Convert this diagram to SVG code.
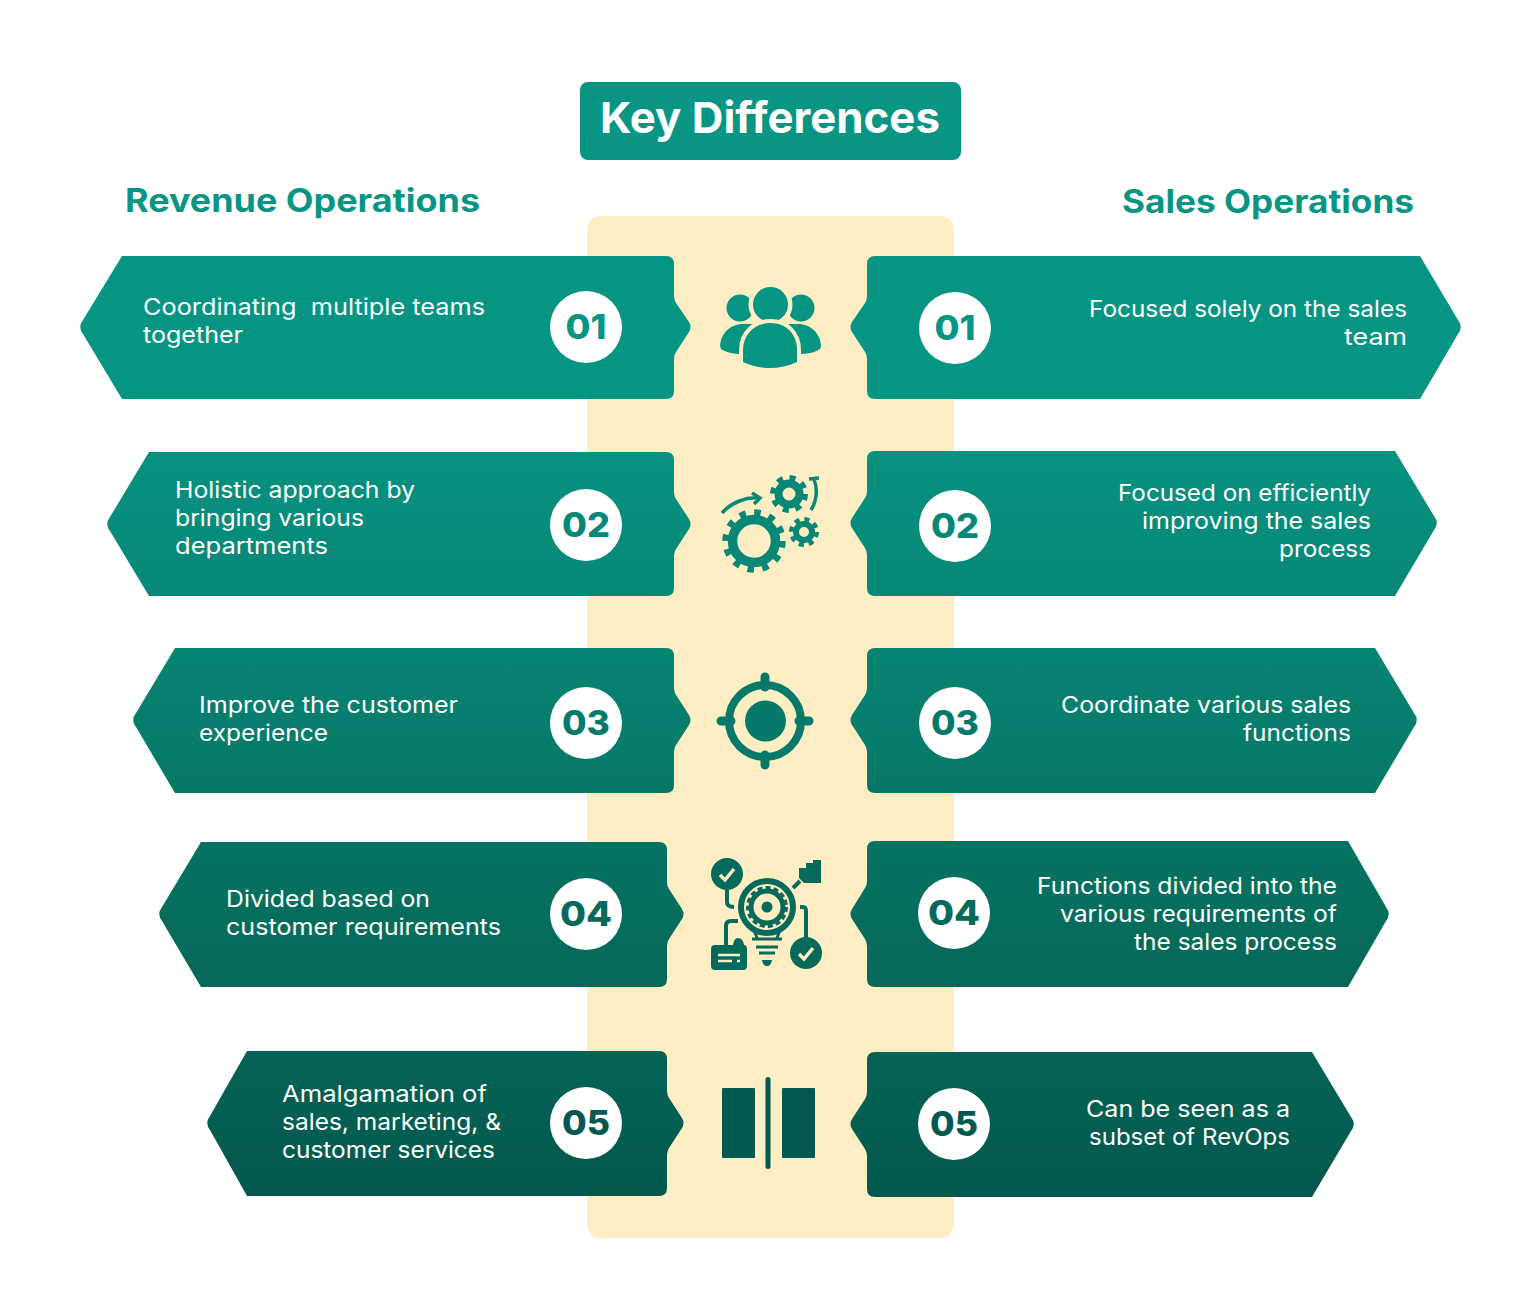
<svg xmlns="http://www.w3.org/2000/svg" width="1536" height="1314" viewBox="0 0 1536 1314">
<style>
text{font-family:"Inter","Liberation Sans",sans-serif}
.b{fill:url(#g)}
.t{font-size:22.5px;fill:#fff;white-space:pre}
.e{text-anchor:end}
.n{font-size:34px;font-weight:800;text-anchor:middle}
.h{font-size:32px;font-weight:700;fill:#089583}
.c{fill:#fff}
.bgs{fill:none;stroke:#fdeec4}
</style>
<defs>
<linearGradient id="g" gradientUnits="userSpaceOnUse" x1="0" y1="256" x2="0" y2="1197">
<stop offset="0" stop-color="#079583"/><stop offset="0.15" stop-color="#079583"/><stop offset="0.4" stop-color="#078574"/><stop offset="0.7" stop-color="#066d5d"/><stop offset="1" stop-color="#03584e"/>
</linearGradient>
</defs>
<rect width="1536" height="1314" fill="#fff"/>
<rect id="band" x="587" y="216" width="367" height="1022" rx="14" fill="#fdeec4"/>
<g id="title"><rect x="580" y="82" width="381" height="78" rx="8" fill="#089583"/>
<text x="600" y="133" font-size="43" font-weight="700" fill="#fff" textLength="340" lengthAdjust="spacingAndGlyphs">Key Differences</text></g>
<text id="left-heading" class="h" x="125" y="212" textLength="355" lengthAdjust="spacingAndGlyphs">Revenue Operations</text>
<text id="right-heading" class="h" x="1122" y="213" textLength="292" lengthAdjust="spacingAndGlyphs">Sales Operations</text>

<g id="left-1"><path class="b" d="M122 256H666Q674 256 674 264V296Q674 300 676 303L689 322Q692 327 689 332L676 352Q674 355 674 359V391Q674 399 666 399H122L83 334Q77.500 327 83 320Z"/>
<text class="t" x="143" y="315" textLength="342" lengthAdjust="spacingAndGlyphs">Coordinating  multiple teams</text><text class="t" x="143" y="343" textLength="100" lengthAdjust="spacingAndGlyphs">together</text>
<circle class="c" cx="586" cy="327" r="36"/><text class="n" x="586" y="339" fill="#089583" textLength="41" lengthAdjust="spacingAndGlyphs">01</text></g>

<g id="left-2"><path class="b" d="M149 452H666Q674 452 674 460V492Q674 496 676 499L689 519Q692 524 689 529L676 549Q674 552 674 556V588Q674 596 666 596H149L110 531Q104.500 524 110 517Z"/>
<text class="t" x="175" y="498" textLength="240" lengthAdjust="spacingAndGlyphs">Holistic approach by</text><text class="t" x="175" y="526" textLength="189" lengthAdjust="spacingAndGlyphs">bringing various</text><text class="t" x="175" y="554" textLength="153" lengthAdjust="spacingAndGlyphs">departments</text>
<circle class="c" cx="586" cy="525" r="36"/><text class="n" x="586" y="537" fill="#078877" textLength="48" lengthAdjust="spacingAndGlyphs">02</text></g>

<g id="left-3"><path class="b" d="M175 648H666Q674 648 674 656V688Q674 692 676 695L689 715Q692 720 689 725L676 745Q674 748 674 752V785Q674 793 666 793H175L136 727Q130.500 720 136 713Z"/>
<text class="t" x="199" y="713" textLength="259" lengthAdjust="spacingAndGlyphs">Improve the customer</text><text class="t" x="199" y="741" textLength="129" lengthAdjust="spacingAndGlyphs">experience</text>
<circle class="c" cx="586" cy="723" r="36"/><text class="n" x="586" y="735" fill="#07796a" textLength="48" lengthAdjust="spacingAndGlyphs">03</text></g>

<g id="left-4"><path class="b" d="M201 842H659Q667 842 667 850V882Q667 886 669 889L682 909Q685 914 682 919L669 939Q667 942 667 946V979Q667 987 659 987H201L162 921Q156.500 914 162 907Z"/>
<text class="t" x="226" y="907" textLength="204" lengthAdjust="spacingAndGlyphs">Divided based on</text><text class="t" x="226" y="935" textLength="275" lengthAdjust="spacingAndGlyphs">customer requirements</text>
<circle class="c" cx="586" cy="914" r="36"/><text class="n" x="586" y="926" fill="#066a5a" textLength="52" lengthAdjust="spacingAndGlyphs">04</text></g>

<g id="left-5"><path class="b" d="M247 1051H659Q667 1051 667 1059V1091Q667 1095 669 1098L682 1118Q685 1123 682 1128L669 1148Q667 1151 667 1155V1188Q667 1196 659 1196H247L210 1130Q204.500 1123 210 1116Z"/>
<text class="t" x="282" y="1102" textLength="205" lengthAdjust="spacingAndGlyphs">Amalgamation of</text><text class="t" x="282" y="1130" textLength="219" lengthAdjust="spacingAndGlyphs">sales, marketing, &amp;</text><text class="t" x="282" y="1158" textLength="213" lengthAdjust="spacingAndGlyphs">customer services</text>
<circle class="c" cx="586" cy="1123" r="36"/><text class="n" x="586" y="1135" fill="#03594f" textLength="48" lengthAdjust="spacingAndGlyphs">05</text></g>

<g id="right-1"><path class="b" d="M1420 256H875Q867 256 867 264V296Q867 300 865 303L852 322Q849 327 852 332L865 352Q867 355 867 359V391Q867 399 875 399H1420L1458 334Q1463.500 327 1458 320Z"/>
<text class="t e" x="1407" y="317" textLength="318" lengthAdjust="spacingAndGlyphs">Focused solely on the sales</text><text class="t e" x="1407" y="345" textLength="63" lengthAdjust="spacingAndGlyphs">team</text>
<circle class="c" cx="955" cy="328" r="36"/><text class="n" x="955" y="340" fill="#089583" textLength="41" lengthAdjust="spacingAndGlyphs">01</text></g>

<g id="right-2"><path class="b" d="M1395 451H875Q867 451 867 459V491Q867 495 865 498L852 518Q849 523 852 528L865 548Q867 551 867 555V588Q867 596 875 596H1395L1434 530Q1439.500 523 1434 516Z"/>
<text class="t e" x="1371" y="501" textLength="253" lengthAdjust="spacingAndGlyphs">Focused on efficiently</text><text class="t e" x="1371" y="529" textLength="229" lengthAdjust="spacingAndGlyphs">improving the sales</text><text class="t e" x="1371" y="557" textLength="92" lengthAdjust="spacingAndGlyphs">process</text>
<circle class="c" cx="955" cy="526" r="36"/><text class="n" x="955" y="538" fill="#078877" textLength="48" lengthAdjust="spacingAndGlyphs">02</text></g>

<g id="right-3"><path class="b" d="M1375 648H875Q867 648 867 656V688Q867 692 865 695L852 715Q849 720 852 725L865 745Q867 748 867 752V785Q867 793 875 793H1375L1414 727Q1419.500 720 1414 713Z"/>
<text class="t e" x="1351" y="713" textLength="290" lengthAdjust="spacingAndGlyphs">Coordinate various sales</text><text class="t e" x="1351" y="741" textLength="108" lengthAdjust="spacingAndGlyphs">functions</text>
<circle class="c" cx="955" cy="723" r="36"/><text class="n" x="955" y="735" fill="#07796a" textLength="48" lengthAdjust="spacingAndGlyphs">03</text></g>

<g id="right-4"><path class="b" d="M1348 841H875Q867 841 867 849V881Q867 885 865 888L852 909Q849 914 852 919L865 939Q867 942 867 946V979Q867 987 875 987H1348L1386 921Q1391.500 914 1386 907Z"/>
<text class="t e" x="1337" y="894" textLength="300" lengthAdjust="spacingAndGlyphs">Functions divided into the</text><text class="t e" x="1337" y="922" textLength="277" lengthAdjust="spacingAndGlyphs">various requirements of</text><text class="t e" x="1337" y="950" textLength="203" lengthAdjust="spacingAndGlyphs">the sales process</text>
<circle class="c" cx="954" cy="913" r="36"/><text class="n" x="954" y="925" fill="#066a5a" textLength="52" lengthAdjust="spacingAndGlyphs">04</text></g>

<g id="right-5"><path class="b" d="M1312 1052H875Q867 1052 867 1060V1092Q867 1096 865 1099L852 1119Q849 1124 852 1129L865 1149Q867 1152 867 1156V1189Q867 1197 875 1197H1312L1351 1131Q1356.500 1124 1351 1117Z"/>
<text class="t e" x="1290" y="1117" textLength="204" lengthAdjust="spacingAndGlyphs">Can be seen as a</text><text class="t e" x="1290" y="1145" textLength="201" lengthAdjust="spacingAndGlyphs">subset of RevOps</text>
<circle class="c" cx="954" cy="1124" r="36"/><text class="n" x="954" y="1136" fill="#03594f" textLength="48" lengthAdjust="spacingAndGlyphs">05</text></g>

<g id="icon-people" fill="#079583">
<circle cx="740" cy="308" r="13.500"/><circle cx="801" cy="308" r="13.500"/>
<path d="M720 346C721 332 731 324 744 324H760V354H743C733 354 725 352 721 349Z"/>
<path d="M821 346C820 332 810 324 797 324H781V354H798C808 354 816 352 820 349Z"/>
<circle cx="770.500" cy="304.500" r="17.500" stroke="#fdeec4" stroke-width="9" paint-order="stroke"/>
<path d="M743 362V350C743 334 755 323 770.500 323C786 323 797 334 797 350V362C788 366 779 368 770 368C761 368 751 366 743 362Z" stroke="#fdeec4" stroke-width="8" paint-order="stroke"/>
</g>

<g id="icon-gears" fill="none" stroke="#078877">
<circle cx="754" cy="541" r="21.500" stroke-width="9.500"/>
<circle cx="754" cy="541" r="28.500" stroke-width="6.500" stroke-dasharray="6.500 8.420"/>
<circle cx="789" cy="494" r="10.500" stroke-width="8"/>
<circle cx="789" cy="494" r="16" stroke-width="6" stroke-dasharray="6 6.570"/>
<circle cx="804" cy="532" r="8" stroke-width="6"/>
<circle cx="804" cy="532" r="12.500" stroke-width="5" stroke-dasharray="5 4.820"/>
<path d="M722 513C732 502 746 497 759 498M752 493L760 498L754 504M811 510C817 500 818 490 814 479M809 479L819 478" stroke-width="3.500"/>
</g>

<g id="icon-target" fill="#07796a">
<circle cx="765" cy="721" r="36" fill="none" stroke="#07796a" stroke-width="8"/>
<circle cx="765.500" cy="721" r="20.500"/>
<path d="M765 677V687M765 755V765M721 721H731M799 721H809" stroke="#07796a" stroke-width="9" stroke-linecap="round"/>
</g>

<g id="icon-bulb" fill="#066a5a">
<circle cx="727" cy="874" r="16"/><circle cx="806" cy="953" r="16"/>
<path d="M720 875L725 880L734 869M799 954L804 959L813 948" class="bgs" stroke-width="3.500"/>
<path d="M727 890V902Q727 907 734 907M738 921H731Q726 921 726 926V946M800 907H803Q806 907 806 911V938M793 888L800 881" fill="none" stroke="#066a5a" stroke-width="4"/>
<path d="M799 868H806V863H813V860H821V883H804L799 878Z"/>
<path d="M711 949Q711 945 715 945H733Q734 938 738 938Q743 938 744 945Q747 945 747 949V966Q747 970 743 970H715Q711 970 711 966Z"/>
<path d="M718 955H740M718 961H732M737 961H740" class="bgs" stroke-width="2.500"/>
<circle cx="767" cy="907" r="26" fill="#fdeec4" stroke="#066a5a" stroke-width="6"/>
<circle cx="767" cy="907" r="16" fill="none" stroke="#066a5a" stroke-width="5"/>
<circle cx="767" cy="907" r="19.500" fill="none" stroke="#066a5a" stroke-width="3" stroke-dasharray="5 3.170"/>
<circle cx="767" cy="907" r="5.500"/>
<path d="M753 927L757 938M781 927L777 938M752 939H782M756 947H778M759 953H775" fill="none" stroke="#066a5a" stroke-width="3"/>
<path d="M762 960H772Q771 966 767 966Q763 966 762 960Z"/>
</g>

<g id="icon-split" fill="#03594f">
<rect x="722" y="1088" width="33" height="70" rx="1"/><rect x="782" y="1088" width="33" height="70" rx="1"/>
<rect x="765.500" y="1077" width="5" height="92" rx="2.500"/>
</g>
</svg>
